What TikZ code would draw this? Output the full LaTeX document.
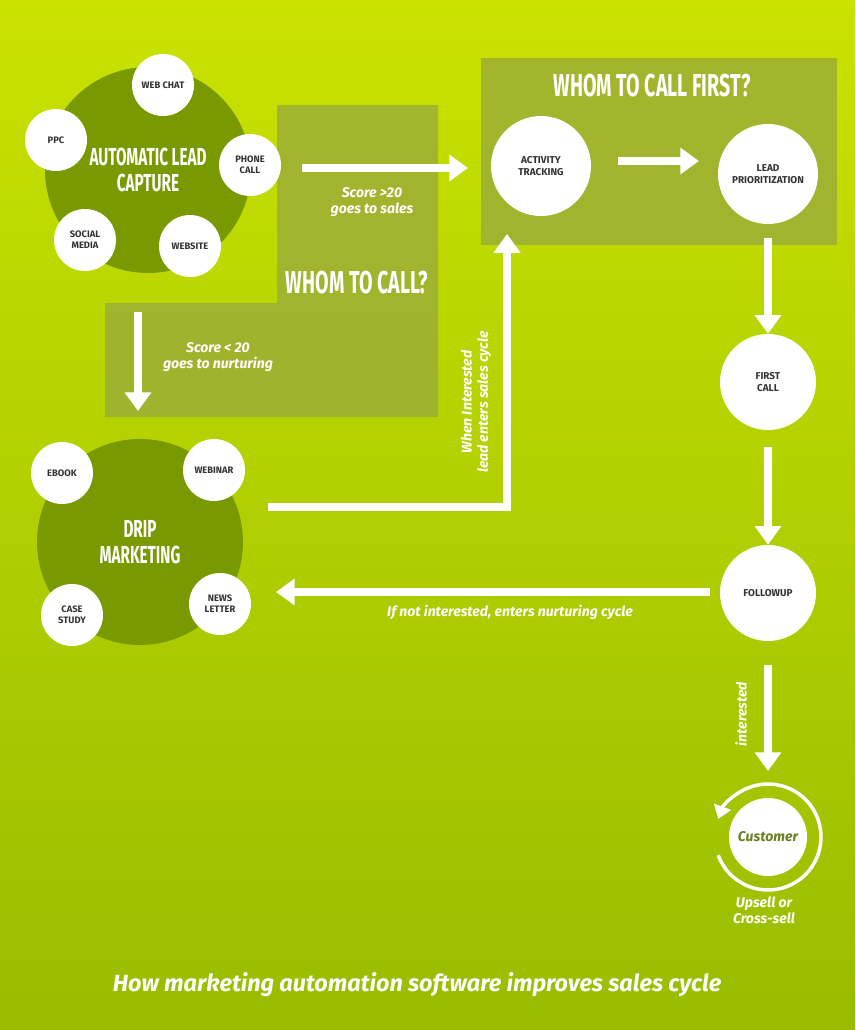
\documentclass[tikz,border=0pt]{standalone}
\usepackage{fontspec}
\setmainfont{Fira Sans}
\usetikzlibrary{arrows.meta}
\definecolor{bgtop}{HTML}{C9E200}
\definecolor{bgbot}{HTML}{99BC00}
\definecolor{dark}{HTML}{789A00}
\definecolor{panel}{HTML}{9DAE35}
\definecolor{txt}{HTML}{333333}
\definecolor{cust}{HTML}{6A8020}
\newcommand{\hd}[1]{\scalebox{0.62}[1]{\bfseries #1}}
\begin{document}
\begin{tikzpicture}[x=0.03cm,y=-0.03cm,
  small/.style={circle,fill=white,minimum size=62*0.03cm,inner sep=0pt,align=center,font=\fontsize{8}{9.5}\selectfont\bfseries\color{txt}},
  big/.style={circle,fill=dark,minimum size=206*0.03cm,inner sep=0pt,align=center,font=\fontsize{21}{20}\selectfont\color{white}},
  mid/.style={circle,fill=white,minimum size=100*0.03cm,inner sep=0pt,align=center,font=\fontsize{8.5}{10}\selectfont\bfseries\color{txt}},
  panelbox/.style={fill=panel,opacity=0.85},
  arr/.style={draw=white,line width=7.5pt,-{Triangle[length=16pt,width=22pt]}},
  lbl/.style={font=\fontsize{12}{14}\selectfont\bfseries\itshape,text=white,align=center},
  hdl/.style={font=\fontsize{27}{27}\selectfont,text=white}]
\shade[top color=bgtop,bottom color=bgbot] (0,0) rectangle (855,1030);
\useasboundingbox (0,0) rectangle (855,1030);
% panels
\fill[panelbox] (277,105) -- (438,105) -- (438,417) -- (105,417) -- (105,303) -- (277,303) -- cycle;
\fill[panelbox] (481,58) rectangle (837,245);
% lead capture
\node[big] (alc) at (148,170) {\hd{AUTOMATIC LEAD}\\[2pt]\hd{CAPTURE}};
\node[small] (wc) at (163,85) {WEB CHAT};
\node[small] (ppc) at (56,140) {PPC};
\node[small] (pc) at (250,165) {PHONE\\CALL};
\node[small] (sm) at (85,240) {SOCIAL\\MEDIA};
\node[small] (ws) at (190,246) {WEBSITE};
\node[hdl] (wtc) at (357,283) {\hd{WHOM TO CALL?}};
\node[hdl] (wtcf) at (652,86) {\hd{WHOM TO CALL FIRST?}};
\coordinate (a1s) at (302,168); \coordinate (a1e) at (468,168);
\draw[arr] (a1s) -- (a1e);
\node[lbl] (s20) at (372,202) {Score >20\\goes to sales};
\coordinate (a2s) at (138,312); \coordinate (a2e) at (138,411);
\draw[arr] (a2s) -- (a2e);
\node[lbl] (s20b) at (218,357) {Score < 20\\goes to nurturing};
% first panel
\node[mid] (at) at (541,166) {ACTIVITY\\TRACKING};
\node[mid] (lp) at (768,174) {LEAD\\PRIORITIZATION};
\draw[arr] (618,161) -- (699,161);
\node[mid,minimum size=96*0.03cm] (fc) at (768,382) {FIRST\\CALL};
\node[mid,minimum size=96*0.03cm] (fu) at (768,593) {FOLLOWUP};
\draw[arr] (fc.north |- 0,238) -- (fc.north);
\draw[arr] (fc.south |- 0,447) -- (fu.north);
% drip
\node[big] (dm) at (140,542) {\hd{DRIP}\\[2pt]\hd{MARKETING}};
\node[small] (eb) at (62,473) {EBOOK};
\node[small] (wb) at (214,470) {WEBINAR};
\node[small] (cs) at (72,615) {CASE\\STUDY};
\node[small] (nl) at (220,604) {NEWS\\LETTER};
\coordinate (b1) at (268,507); \coordinate (b2) at (507,507); \coordinate (b3) at (507,234);
\draw[arr] (b1) -- (b2) -- (b3);
\node[lbl,rotate=90] (wi) at (476,402) {When Interested\\lead enters sales cycle};
\coordinate (c1) at (710,592); \coordinate (c2) at (276,592);
\draw[arr] (c1) -- (c2);
\node[lbl] (ni) at (510,612) {If not interested, enters nurturing cycle};
% customer
\coordinate (d2) at (768,771);
\draw[arr] (fu.south |- 0,665) -- (d2);
\node[lbl,rotate=90] (int) at (741,714) {interested};
\node[circle,fill=white,minimum size=78*0.03cm,inner sep=0pt,font=\fontsize{12}{13}\selectfont\bfseries\itshape,text=cust] (cu) at (768,837) {Customer};
\draw[white,line width=3pt,-{Triangle[length=11pt,width=15pt]}] (768,837) ++(-200:53) arc[start angle=-200,end angle=-520,radius=53];
\node[lbl] (up) at (764,910) {Upsell or\\Cross-sell};
\node[font=\fontsize{20}{22}\selectfont\bfseries\itshape,text=white] (title) at (417,985) {How marketing automation software improves sales cycle};
\end{tikzpicture}
\end{document}
